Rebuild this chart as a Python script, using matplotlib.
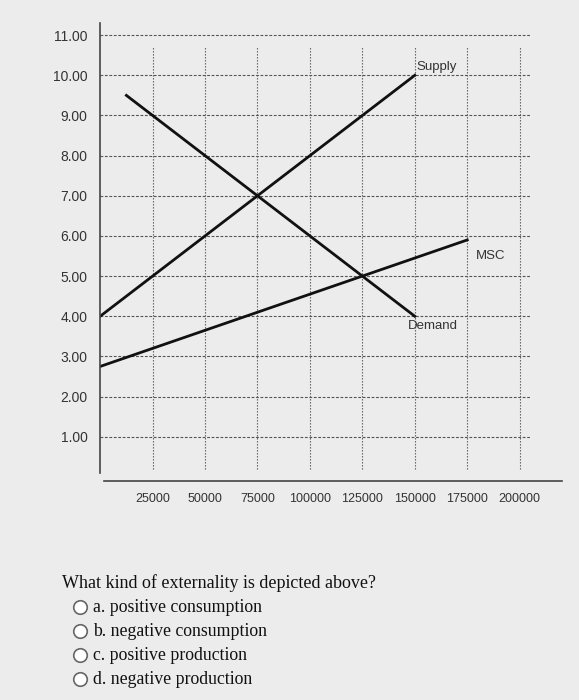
import matplotlib.pyplot as plt

# chart values
y_ticks = [1, 2, 3, 4, 5, 6, 7, 8, 9, 10, 11]
x_ticks = [25000, 50000, 75000, 100000, 125000, 150000, 175000, 200000]

supply_q = [0, 150000]
supply_p = [4.0, 10.0]
demand_q = [12500, 150000]
demand_p = [9.5, 4.0]
msc_q = [0, 175000]
msc_p = [2.75, 5.9]

question = "What kind of externality is depicted above?"
options = ["a. positive consumption", "b. negative consumption",
           "c. positive production", "d. negative production"]

bg = '#ececec'
fig = plt.figure(figsize=(5.79, 7.0), dpi=100, facecolor=bg)
ax = fig.add_axes([0.173, 0.313, 0.797, 0.654])
ax.set_facecolor(bg)
ax.set_xlim(0, 220000)
ax.set_ylim(-0.1, 11.3)

# dotted grid
ax.hlines(y_ticks, 0, 205000, colors='#555555', linestyles=(0, (2.5, 1.5)), linewidth=0.8)
ax.vlines(x_ticks, 0.2, 10.7, colors='#555555', linestyles=(0, (1.2, 1.5)), linewidth=0.8)

ax.plot(supply_q, supply_p, color='#111111', lw=2)
ax.plot(demand_q, demand_p, color='#111111', lw=2)
ax.plot(msc_q, msc_p, color='#111111', lw=2)

lab = dict(fontsize=9.5, color='#333333', family='Liberation Sans')
ax.text(supply_q[-1] + 1000, supply_p[-1] + 0.2, "Supply", ha='left', va='center', **lab)
ax.text(msc_q[-1] + 4000, msc_p[-1] - 0.4, "MSC", ha='left', va='center', **lab)
ax.text(demand_q[-1] - 3500, demand_p[-1] - 0.25, "Demand", ha='left', va='center', **lab)

ax.set_yticks(y_ticks, labels=[f"{v:.2f}" for v in y_ticks])
ax.set_xticks(x_ticks, labels=[str(v) for v in x_ticks])
ax.tick_params(length=0, labelcolor='#333333')
ax.tick_params(axis='y', pad=9, labelsize=10)
ax.tick_params(axis='x', pad=9, labelsize=9)
for t in ax.get_xticklabels() + ax.get_yticklabels():
    t.set_family('Liberation Sans')

for s in ['top', 'right']:
    ax.spines[s].set_visible(False)
ax.spines['left'].set_bounds(0.1, 11.3)
ax.spines['bottom'].set_bounds(2000, 220000)
for s in ['left', 'bottom']:
    ax.spines[s].set_color('#444444')
    ax.spines[s].set_linewidth(1.2)

# question text below the chart, in pixel units
qa = fig.add_axes([0, 0, 1, 1], facecolor='none')
qa.set_xlim(0, 579)
qa.set_ylim(700, 0)
qa.axis('off')
qa.text(62, 583, question, fontsize=13, family='Liberation Serif', color='#111111',
        va='center', ha='left')
for i, opt in enumerate(options):
    yy = 607 + i * 24
    qa.scatter([80], [yy], s=95, facecolors='white', edgecolors='#666666', linewidths=1.2)
    qa.text(93, yy, opt, fontsize=12.8, family='Liberation Serif', color='#111111',
            va='center', ha='left')

fig.savefig('out.png', dpi=100, facecolor=bg)
